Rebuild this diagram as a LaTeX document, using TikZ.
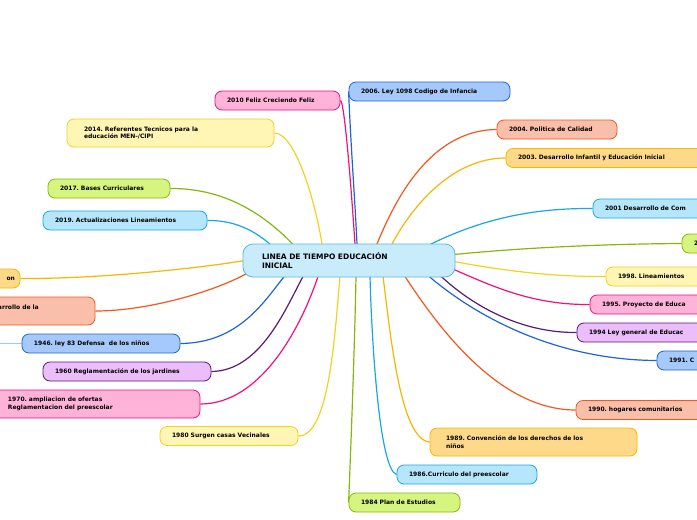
\documentclass[tikz,border=0pt]{standalone}
\usepackage{fontspec}
\setmainfont{DejaVu Sans}
\frenchspacing
\usetikzlibrary{backgrounds}
\definecolor{pinkF}{HTML}{FFB3D9}\definecolor{pinkD}{HTML}{F0117C}
\definecolor{blueF}{HTML}{A6C9FB}\definecolor{blueD}{HTML}{1E64D2}
\definecolor{yelF}{HTML}{FFF5B5}\definecolor{yelD}{HTML}{F2D21E}
\definecolor{grnF}{HTML}{D5F580}\definecolor{grnD}{HTML}{86B80C}
\definecolor{lbF}{HTML}{B5E6FB}\definecolor{lbD}{HTML}{19A6E8}
\definecolor{orF}{HTML}{FFD98A}\definecolor{orD}{HTML}{F5B800}
\definecolor{salF}{HTML}{F9BFAA}\definecolor{salD}{HTML}{F2581E}
\definecolor{purF}{HTML}{EBBDFB}\definecolor{purD}{HTML}{5C1A70}
\definecolor{cenF}{HTML}{C8ECFB}\definecolor{cenD}{HTML}{5BB5E5}
\newcommand{\tbox}[8]{\node[tb, fill=#6F, draw=#6D, minimum width=#3pt-#2pt, minimum height=#5pt, text width=#3pt-#2pt-2*#7pt] (#1) at ({(#2+#3)/2},#4) {#8};}
\tikzset{tb/.style={rounded corners=7pt, line width=0.8pt, font=\bfseries\fontsize{6}{7.5}\selectfont, align=left, inner xsep=0pt, inner ysep=0pt},
  con/.style={line width=1.2pt}}
\begin{document}
\begin{tikzpicture}[x=1pt,y=-1pt]
\useasboundingbox (0,0) rectangle (697,520);
\clip (0,0) rectangle (697,520);
\node[tb, rounded corners=10pt, fill=cenF, draw=cenD, minimum width=212pt, minimum height=33pt, text width=174pt, font=\bfseries\fontsize{7.5}{9}\selectfont] (c) at (349,260.5) {LINEA DE TIEMPO EDUCACIÓN\\INICIAL};
\tbox{n2010}{215}{340}{100.5}{19}{pink}{12}{2010 Feliz Creciendo Feliz}
\tbox{n2006}{349}{510}{91.5}{19}{blue}{12}{2006. Ley 1098 Codigo de Infancia}
\tbox{n2014}{67}{274}{133}{28}{yel}{17}{2014. Referentes Tecnicos para la\\educación MEN-/CIPI}
\tbox{n2017}{48}{170}{188.5}{19}{grn}{12}{2017. Bases Curriculares}
\tbox{n2019}{43}{207}{220.5}{19}{lb}{12}{2019. Actualizaciones Lineamientos}
\node[tb, fill=orF, draw=orD, minimum width=80pt, minimum height=19pt, text width=70pt, align=right] (non) at (-20,278.5) {on};
\node[tb, fill=salF, draw=salD, minimum width=140pt, minimum height=28pt, text width=54pt, align=left] (narr) at (25,311) {arrollo de la\\\mbox{}};
\tbox{n1946}{22}{180}{343.5}{19}{blue}{12}{1946. ley 83 Defensa\ \ de los niños}
\tbox{n1960}{43}{211}{371.5}{19}{pur}{12}{1960 Reglamentación de los jardines}
\tbox{n1970}{-10}{200}{404}{28}{pink}{18}{1970. ampliacion de ofertas\\Reglamentacion del preescolar}
\tbox{n1980}{160}{298}{436}{19}{yel}{12}{1980 Surgen casas Vecinales}
\tbox{n1984}{349}{460}{502.5}{19}{grn}{12}{1984 Plan de Estudios}
\tbox{n1986}{397}{537}{474.5}{19}{lb}{12}{1986.Curriculo del preescolar}
\tbox{n1989}{430}{637}{442}{28}{or}{16}{1989. Convención de los derechos de los\\niños}
\tbox{n1990}{576}{760}{410}{19}{sal}{12}{1990. hogares comunitarios}
\tbox{n1991}{657}{760}{360.5}{19}{blue}{12}{1991. C}
\tbox{n1994}{577}{760}{332.5}{19}{pur}{12}{1994 Ley general de Educac}
\tbox{n1995}{590}{760}{304.5}{19}{pink}{12}{1995. Proyecto de Educa}
\tbox{n1998}{606}{760}{276.5}{19}{yel}{12}{1998. Lineamientos}
\tbox{n2}{682}{760}{243.5}{19}{grn}{12}{2}
\tbox{n2001}{593}{760}{208.5}{19}{lb}{12}{2001 Desarrollo de Com}
\tbox{n2003}{506}{760}{158}{19}{or}{12}{2003. Desarrollo Infantil y Educación Inicial}
\tbox{n2004}{497}{617}{129.5}{19}{sal}{12}{2004. Politica de Calidad}
\coordinate (lft) at (-5,343.5);
\begin{scope}[on background layer]
\fill[white] (0,0) rectangle (697,520);
\draw[con,pinkD] (n2010.east) .. controls (344,101) and (350,170) .. ([shift={(6,-16.5)}]c.center);
\draw[con,blueD] (n2006.west) .. controls (351,150) and (355,200) .. ([shift={(8,-16.5)}]c.center);
\draw[con,yelD] (n2014.east) .. controls (295,133) and (315,200) .. ([shift={(-27,-16.5)}]c.center);
\draw[con,grnD] (n2017.east) .. controls (230,188) and (270,220) .. ([shift={(-54,-14)}]c.center);
\draw[con,lbD] (n2019.east) .. controls (240,220) and (260,235) .. ([shift={(-74,-12)}]c.center);
\draw[con,orD] (non.east) .. controls (100,279) and (200,268) .. ([shift={(-104,0)}]c.center);
\draw[con,salD] (narr.east) .. controls (150,311) and (220,290) .. ([shift={(-97,10)}]c.center);
\draw[con,blueD] (n1946.east) .. controls (240,343) and (265,300) .. ([shift={(-64,15)}]c.center);
\draw[con,lbD!50] (n1946.west) -- (lft);
\draw[con,purD] (n1960.east) .. controls (260,371) and (285,310) .. ([shift={(-46,16)}]c.center);
\draw[con,pinkD] (n1970.east) .. controls (260,404) and (300,330) .. ([shift={(-31,16)}]c.center);
\draw[con,yelD] (n1980.east) .. controls (330,436) and (335,330) .. ([shift={(-9,16)}]c.center);
\draw[con,grnD] (n1984.west) .. controls (352,420) and (355,330) .. ([shift={(7,16)}]c.center);
\draw[con,lbD] (n1986.west) .. controls (380,470) and (372,350) .. ([shift={(21,16)}]c.center);
\draw[con,orD] (n1989.west) .. controls (400,440) and (390,330) .. ([shift={(34,16)}]c.center);
\draw[con,salD] (n1990.west) .. controls (500,410) and (440,330) .. ([shift={(56,16)}]c.center);
\draw[con,blueD] (n1991.west) .. controls (560,360) and (480,320) .. ([shift={(79,15)}]c.center);
\draw[con,purD] (n1994.west) .. controls (520,333) and (470,305) .. ([shift={(87,11)}]c.center);
\draw[con,pinkD] (n1995.west) .. controls (530,305) and (490,285) .. ([shift={(98,6)}]c.center);
\draw[con,yelD] (n1998.west) .. controls (550,277) and (500,270) .. ([shift={(105,1)}]c.center);
\draw[con,grnD] (n2.west) .. controls (600,244) and (520,248) .. ([shift={(105,-6)}]c.center);
\draw[con,lbD] (n2001.west) .. controls (530,208) and (480,220) .. ([shift={(81,-16)}]c.center);
\draw[con,orD] (n2003.west) .. controls (450,158) and (410,210) .. ([shift={(43,-16.5)}]c.center);
\draw[con,salD] (n2004.west) .. controls (430,130) and (395,200) .. ([shift={(28,-16.5)}]c.center);
\end{scope}
\end{tikzpicture}
\end{document}
